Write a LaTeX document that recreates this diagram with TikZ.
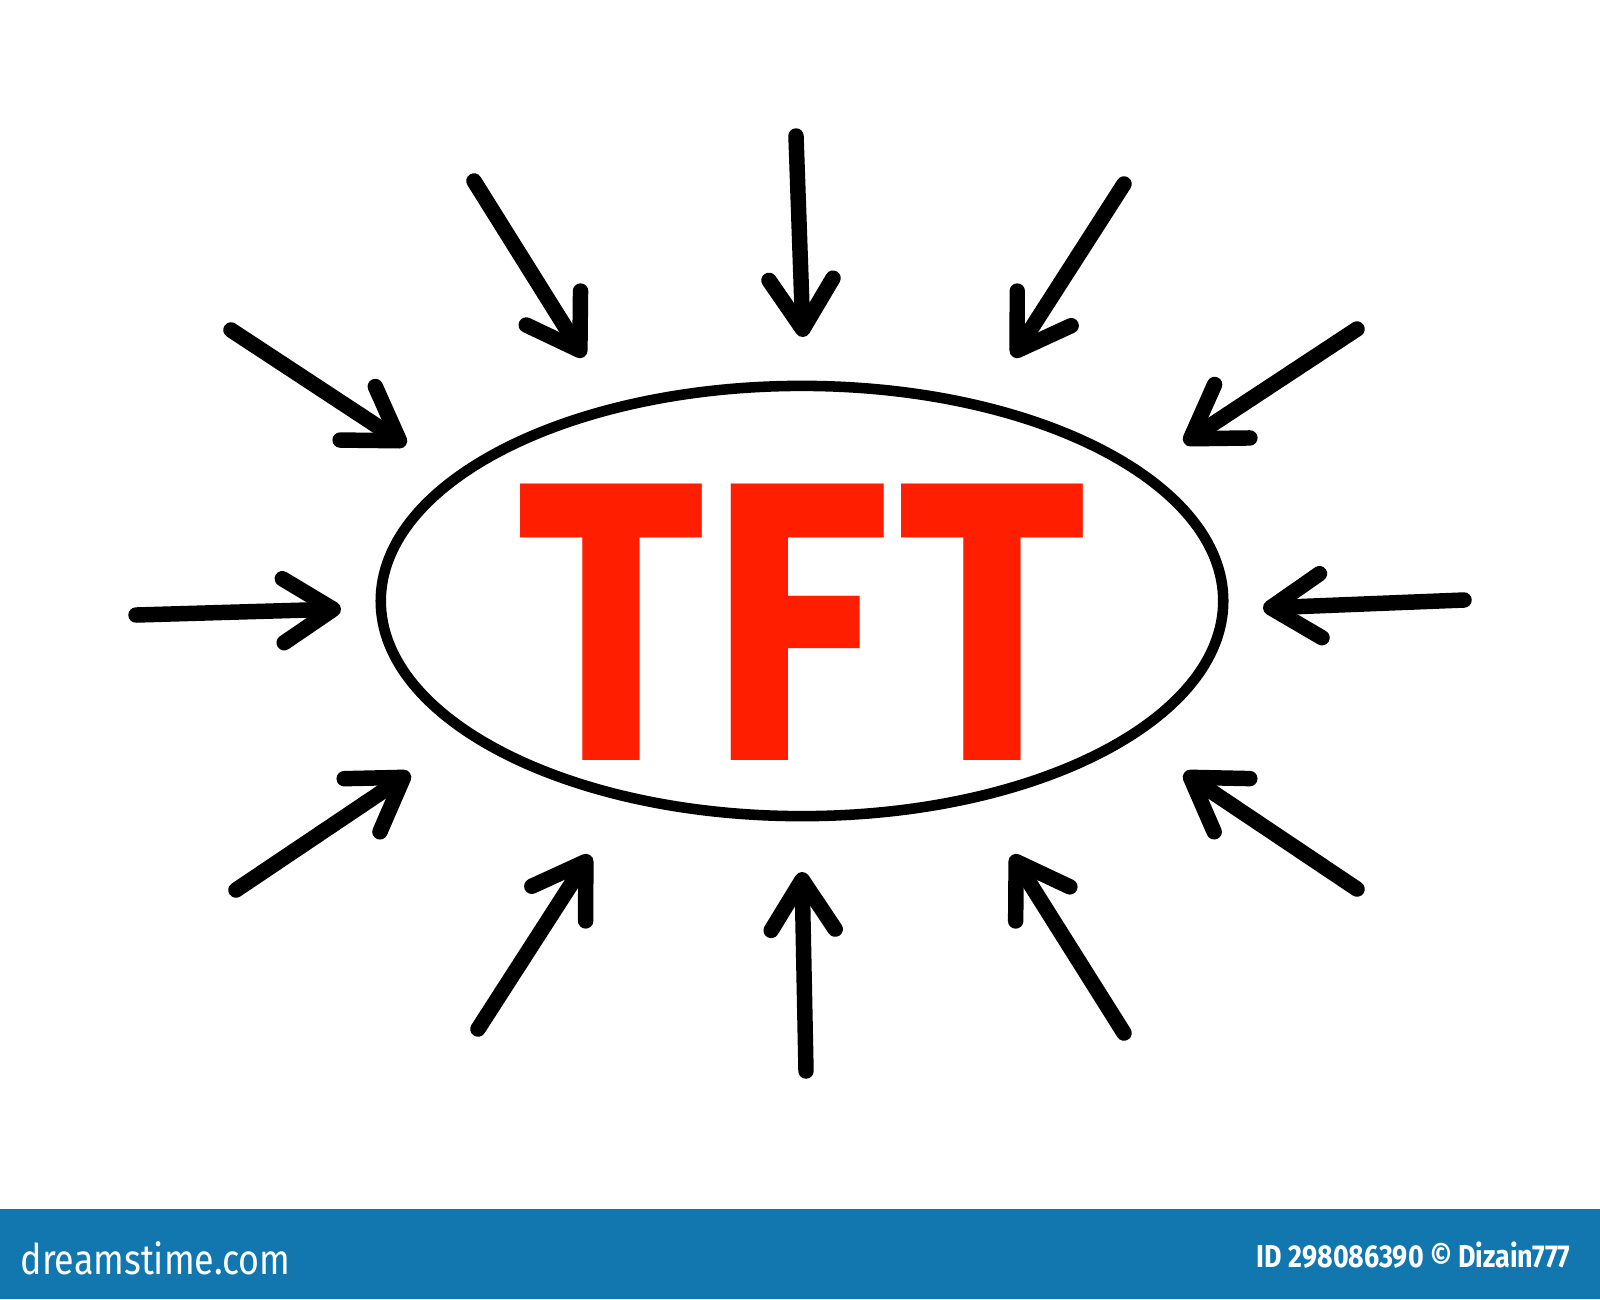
\documentclass[tikz,border=0pt]{standalone}
\usepackage{fontspec}
\usetikzlibrary{arrows.meta,shapes.geometric}
\newfontfamily\lettersfont{Poppins}
\newfontfamily\barfont{Fira Sans}
\definecolor{tftred}{RGB}{255,30,0}
\definecolor{stockblue}{RGB}{18,119,175}
\tikzset{
	inarrow/.style={line width=4.4pt, line cap=round,
		-{Straight Barb[length=5mm,width=6.4mm,round]}},
	oval/.style={draw, ellipse, line width=3pt, inner sep=0pt},
}

\begin{document}
\begin{tikzpicture}[x=0.01cm, y=-0.01cm]
	\useasboundingbox (0,0) rectangle (1600,1299);
	% centre
	\node (tft) [oval, minimum width=8.42cm, minimum height=4.30cm] at (802,601) {};
	\node (word) at (802,622) 
		[text=tftred, xscale=0.85, font=\lettersfont\bfseries\fontsize{112}{112}\selectfont] 
		{TFT};
	% tails and heads of the arrows
	\coordinate (t1) at (796,136);   \coordinate (h1) at (803,337);
	\coordinate (t2) at (474,181);   \coordinate (h2) at (584,357);
	\coordinate (t3) at (1124,184);  \coordinate (h3) at (1013,357);
	\coordinate (t4) at (231,330);   \coordinate (h4) at (406,445);
	\coordinate (t5) at (1357,329);  \coordinate (h5) at (1184,443);
	\coordinate (t6) at (136,615);   \coordinate (h6) at (341,609);
	\coordinate (t7) at (1464,600);  \coordinate (h7) at (1263,608);
	\coordinate (t8) at (236,890);   \coordinate (h8) at (410,773);
	\coordinate (t9) at (1357,889);  \coordinate (h9) at (1184,773);
	\coordinate (t10) at (478,1029); \coordinate (h10) at (590,855);
	\coordinate (t11) at (806,1071); \coordinate (h11) at (802,872);
	\coordinate (t12) at (1124,1033); \coordinate (h12) at (1012,855);
	\foreach \i in {1,...,12}
		\draw [ inarrow ] (t\i) to (h\i);
	% stock bar
	\fill [stockblue] (0,1209) rectangle (1600,1299);
	\node (site) [anchor=west, inner sep=0pt, xscale=0.85, text=white, 
		font=\barfont\fontsize{12}{12}\selectfont] 
		at (20,1258) {dreamstime.com};
	\node (imgid) [anchor=east, inner sep=0pt, xscale=0.85, text=white, 
		font=\barfont\bfseries\fontsize{9}{9}\selectfont] 
		at (1571,1255) {ID 298086390 © Dizain777};
\end{tikzpicture}
\end{document}
